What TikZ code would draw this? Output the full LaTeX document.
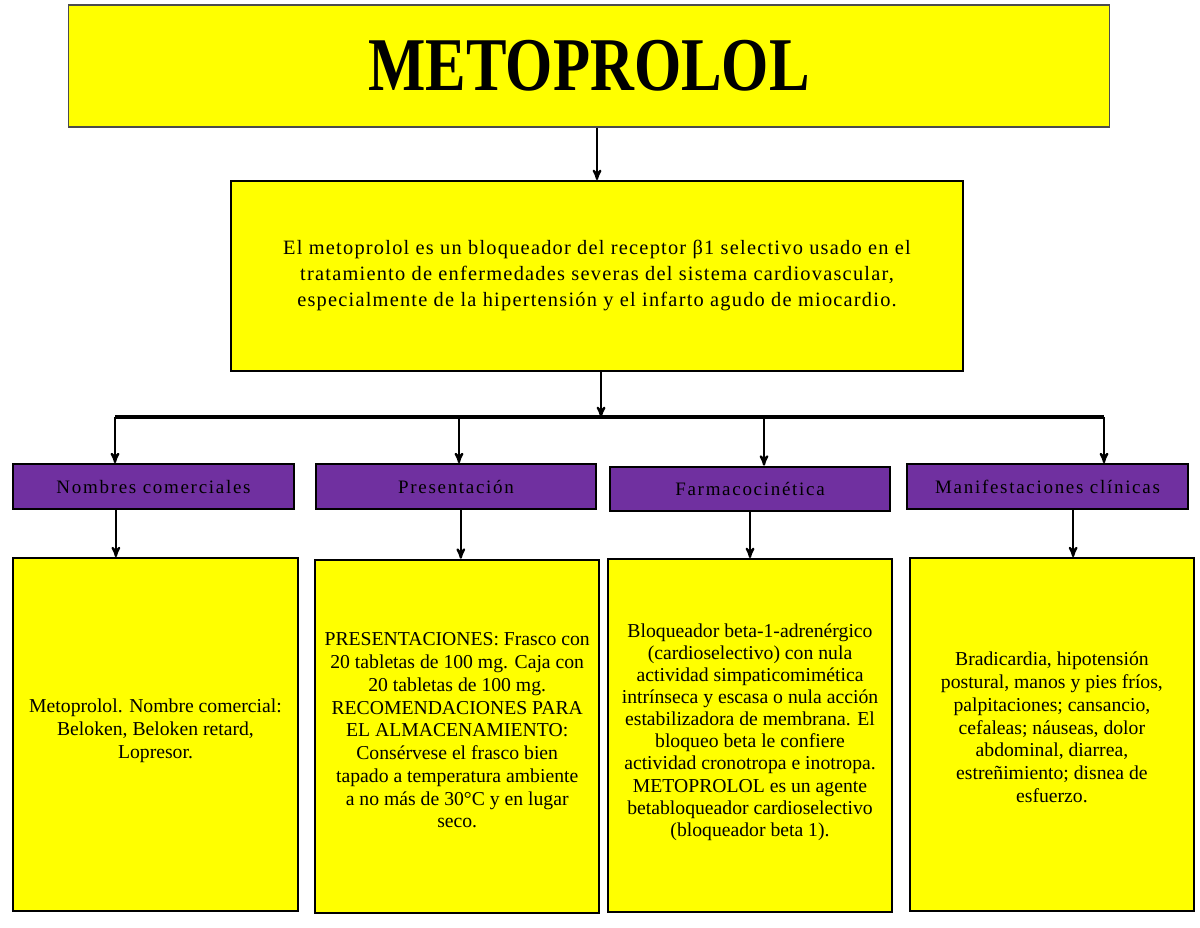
\documentclass[tikz,border=0pt]{standalone}
\usepackage{fontspec}
\setmainfont{Liberation Serif}
\newfontfamily\titlefont[FakeStretch=0.8]{Liberation Serif}
\newfontfamily\spacedfont[LetterSpace=9]{Liberation Serif}
\newfontfamily\descfont[LetterSpace=6]{Liberation Serif}
\usetikzlibrary{arrows,positioning}
\definecolor{amarillo}{RGB}{255,255,0}
\definecolor{morado}{RGB}{112,48,160}

\tikzset{
  titulo/.style={draw=black!70, line width=0.8pt, fill=amarillo,
    minimum width=26cm, minimum height=3.05cm,
    font=\titlefont\bfseries\fontsize{54}{54}\selectfont},
  cuadro/.style={draw, line width=1.4pt, fill=amarillo, align=center,
    minimum width=18.3cm, minimum height=4.75cm,
    font=\descfont\fontsize{14.5}{18.5}\selectfont},
  rubro/.style={draw, line width=1.4pt, fill=morado, inner sep=0pt,
    minimum width=7.02cm, minimum height=1.12cm,
    font=\spacedfont\fontsize{13.5}{16}\selectfont},
  detalle/.style={draw, line width=1.4pt, fill=amarillo, align=center,
    minimum width=7.1cm, minimum height=8.83cm,
    font=\fontsize{14}{16.2}\selectfont},
  flecha/.style={->, line width=1.5pt},
}

\begin{document}
\begin{tikzpicture}[x=0.025cm, y=-0.025cm, >=stealth']
  \useasboundingbox (0,0) rectangle (1200,927);

  \node[titulo] (tit) at (589,66) {METOPROLOL};
  \node[cuadro] (def) at (597,276)
    {El metoprolol es un bloqueador del receptor β1 selectivo usado en el\\
     tratamiento de enfermedades severas del sistema cardiovascular,\\
     especialmente de la hipertensión y el infarto agudo de miocardio.};

  % barra
  \coordinate (b1) at (115,417);
  \coordinate (b2) at (459,417);
  \coordinate (b3) at (764,417);
  \coordinate (b4) at (1104,417);

  \node[rubro] (nom) at (153.5,486.5) {Nombres comerciales};
  \node[rubro] (pre) at (456,486.5) {Presentación};
  \node[rubro] (far) at (750,489) {Farmacocinética};
  \node[rubro] (man) at (1047.5,486.5) {Manifestaciones clínicas};

  \node[detalle] (dnom) [below=1.18cm of nom, xshift=0.05cm]
    {Metoprolol. Nombre comercial:\\ Beloken, Beloken retard,\\ Lopresor.\\[-0.27cm]};
  \node[detalle] (dpre) [below=1.22cm of pre, xshift=0.03cm]
    {PRESENTACIONES: Frasco con\\ 20 tabletas de 100 mg. Caja con\\
     20 tabletas de 100 mg.\\ RECOMENDACIONES PARA\\ EL ALMACENAMIENTO:\\
     Consérvese el frasco bien\\ tapado a temperatura ambiente\\
     a no más de 30°C y en lugar\\ seco.\\[-0.27cm]};
  \node[detalle] (dfar) [below=1.14cm of far, font=\fontsize{14}{15.7}\selectfont]
    {Bloqueador beta-1-adrenérgico\\ (cardioselectivo) con nula\\
     actividad simpaticomimética\\ intrínseca y escasa o nula acción\\
     estabilizadora de membrana. El\\ bloqueo beta le confiere\\
     actividad cronotropa e inotropa.\\ METOPROLOL es un agente\\
     betabloqueador cardioselectivo\\ (bloqueador beta 1).\\[-0.27cm]};
  \node[detalle] (dman) [below=1.18cm of man, xshift=0.11cm]
    {Bradicardia, hipotensión\\ postural, manos y pies fríos,\\
     palpitaciones; cansancio,\\ cefaleas; náuseas, dolor\\
     abdominal, diarrea,\\ estreñimiento; disnea de\\ esfuerzo.\\[-0.2cm]};

  \draw[flecha] (def.north |- tit.south) -- (def.north);
  \draw[flecha] ([xshift=0.1cm]def.south) -- ([xshift=0.1cm]def.south |- b1);
  \draw[line width=2.6pt] (b1) -- (b4);
  \draw[flecha] (b1) -- (b1 |- nom.north);
  \draw[flecha] (b2) -- (b2 |- pre.north);
  \draw[flecha] (b3) -- (b3 |- far.north);
  \draw[flecha] (b4) -- (b4 |- man.north);

  \draw[flecha] ([xshift=-0.94cm]nom.south) -- ([xshift=-0.94cm]nom.south |- dnom.north);
  \draw[flecha] ([xshift=0.12cm]pre.south) -- ([xshift=0.12cm]pre.south |- dpre.north);
  \draw[flecha] (far.south) -- (far.south |- dfar.north);
  \draw[flecha] ([xshift=0.64cm]man.south) -- ([xshift=0.64cm]man.south |- dman.north);
\end{tikzpicture}
\end{document}
